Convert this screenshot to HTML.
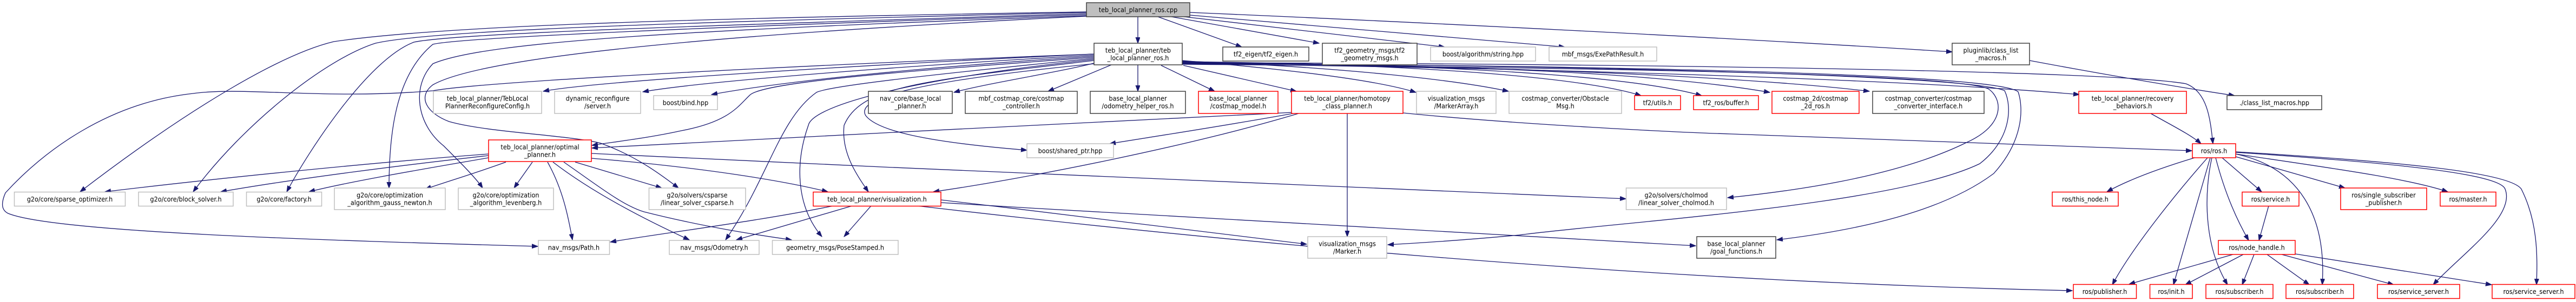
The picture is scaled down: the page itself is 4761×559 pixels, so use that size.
<!DOCTYPE html>
<html><head><meta charset="utf-8"><style>
html,body{margin:0;padding:0;background:#fff;}
svg{display:block;}
text{font-family:"DejaVu Sans Condensed","DejaVu Sans","Liberation Sans",sans-serif;font-size:12.5px;fill:#000;text-anchor:middle;}
.e{fill:none;stroke:#191970;stroke-width:1.3;marker-end:url(#a);}
.g{fill:#fff;stroke:#bfbfbf;stroke-width:1.5;}
.k{fill:#fff;stroke:#404040;stroke-width:1.5;}
.r{fill:#fff;stroke:#ff0000;stroke-width:1.5;}
</style></head><body>
<svg width="4761" height="559" viewBox="0 0 4761 559" xmlns="http://www.w3.org/2000/svg">
<defs><marker id="a" markerUnits="userSpaceOnUse" markerWidth="12" markerHeight="9" refX="11" refY="4" orient="auto"><path d="M0,0 L11,4 L0,8 z" fill="#191970" stroke="#191970"/></marker></defs>

<!-- edges -->
<path class="e" d="M2103,31 L2103,80"/>
<path class="e" d="M2140,31 L2295,87"/>
<path class="e" d="M2165,31 L2438,80"/>
<path class="e" d="M2180,30 L2670,87"/>
<path class="e" d="M2199,28 L2892,87"/>
<path class="e" d="M2199,23 C2600,40 3200,70 3608,96"/>
<path class="e" d="M2008,22 C1200,35 800,50 617,77 C520,100 350,200 148,355"/>
<path class="e" d="M2008,23 C1300,40 800,55 694,80 C600,110 450,230 357,355"/>
<path class="e" d="M2008,25 C1400,45 850,60 765,78 C680,110 570,280 530,355"/>
<path class="e" d="M2008,27 C1300,50 850,70 800,82 C730,140 719,250 719,348"/>
<path class="e" d="M2008,29 C1300,55 900,75 800,118 C760,160 770,230 820,270 C850,300 880,330 892,348"/>
<path class="e" d="M2008,30 C1400,60 900,100 800,157 C770,180 790,210 830,225 C900,245 1050,250 1110,265 C1180,290 1230,330 1254,348"/>
<path class="e" d="M2022,100 C1500,120 900,150 800,168 C600,185 450,160 357,173 C200,190 80,280 10,357 C0,380 5,390 15,395 C100,430 600,445 994,456"/>
<path class="e" d="M2022,100 C1600,120 1100,150 1004,169"/>
<path class="e" d="M2022,102 C1700,120 1300,150 1188,170"/>
<path class="e" d="M2022,104 C1700,125 1450,150 1315,175"/>
<path class="e" d="M2022,106 C1700,130 1420,150 1387,175 C1365,195 1350,225 1259,242 C1200,255 1140,262 1094,269"/>
<path class="e" d="M2022,108 C1700,140 1530,160 1509,171 C1440,220 1420,330 1341,444"/>
<path class="e" d="M2022,110 C1650,150 1500,200 1494,232 C1470,300 1470,380 1519,438"/>
<path class="e" d="M2022,112 C1700,150 1590,160 1560,232 C1555,280 1580,320 1605,355"/>
<path class="e" d="M2022,117 C1950,135 1820,155 1763,171"/>
<path class="e" d="M2054,120 L1937,169"/>
<path class="e" d="M2103,120 L2103,169"/>
<path class="e" d="M2146,121 L2245,169"/>
<path class="e" d="M2187,121 L2396,169"/>
<path class="e" d="M2022,118 C1700,150 1580,180 1600,214 C1620,240 1700,262 1898,278"/>
<path class="e" d="M2185,112 C2400,130 2550,150 2617,171"/>
<path class="e" d="M2185,113 C2500,125 2700,150 2788,169"/>
<path class="e" d="M2185,114 C2700,120 2950,150 3033,177"/>
<path class="e" d="M2185,115 C2800,120 3050,150 3145,177"/>
<path class="e" d="M2185,116 C2900,120 3150,150 3271,171"/>
<path class="e" d="M2185,117 C2900,122 3300,150 3455,169"/>
<path class="e" d="M2185,118 C2800,125 3500,145 3843,175"/>
<path class="e" d="M2185,116 C3000,118 3900,130 4040,155 C4080,170 4085,220 4090,266"/>
<path class="e" d="M2185,119 C2900,125 3600,135 3674,164 C3700,180 3710,230 3634,264 C3500,330 3300,355 3193,366"/>
<path class="e" d="M2185,117 C2900,120 3650,140 3705,168 C3720,200 3715,260 3659,303 C3500,380 3000,410 2808,435 C2700,445 2620,450 2565,453"/>
<path class="e" d="M2185,118 C2900,120 3690,135 3730,170 C3740,200 3740,260 3685,321 C3580,400 3400,430 3284,444"/>
<path class="e" d="M2400,210 C2200,270 1900,330 1725,355"/>
<path class="e" d="M2390,210 C2250,235 2150,250 2051,266"/>
<path class="e" d="M2390,208 C2000,230 1500,250 1094,274"/>
<path class="e" d="M2490,210 L2490,438"/>
<path class="e" d="M2593,209 C2800,230 3100,245 3200,248 C3600,265 3900,275 4051,279"/>
<path class="e" d="M903,285 C700,300 400,330 194,355"/>
<path class="e" d="M903,288 C750,305 550,330 408,355"/>
<path class="e" d="M903,292 C800,310 650,335 571,355"/>
<path class="e" d="M935,300 C880,320 830,335 786,350"/>
<path class="e" d="M984,300 L950,348"/>
<path class="e" d="M1012,300 C1040,350 1050,400 1058,444"/>
<path class="e" d="M1022,300 C1100,360 1200,410 1274,444"/>
<path class="e" d="M1042,300 C1100,340 1150,380 1190,392 C1300,420 1400,435 1463,444"/>
<path class="e" d="M1063,300 L1223,348"/>
<path class="e" d="M1093,293 C1300,310 1450,335 1530,355"/>
<path class="e" d="M1093,284 C1800,320 2700,350 3005,368"/>
<path class="e" d="M1540,381 C1400,410 1200,435 1128,448"/>
<path class="e" d="M1575,381 L1361,444"/>
<path class="e" d="M1610,381 L1560,438"/>
<path class="e" d="M1739,370 C2000,400 2300,440 2415,452"/>
<path class="e" d="M1739,375 C2300,410 2900,440 3134,455"/>
<path class="e" d="M1695,381 C2200,440 3000,520 3830,538"/>
<path class="e" d="M3751,112 C3900,140 4050,165 4130,177"/>
<path class="e" d="M3975,210 C4010,230 4050,250 4068,266"/>
<path class="e" d="M4056,292 C3980,315 3930,335 3894,355"/>
<path class="e" d="M4080,292 C4020,360 3940,460 3904,527"/>
<path class="e" d="M4085,292 L4017,527"/>
<path class="e" d="M4088,292 C4075,350 4070,450 4117,527"/>
<path class="e" d="M4095,292 C4110,350 4130,400 4156,445"/>
<path class="e" d="M4107,292 L4180,355"/>
<path class="e" d="M4132,285 C4250,310 4300,400 4292,527"/>
<path class="e" d="M4132,290 L4334,348"/>
<path class="e" d="M4132,285 C4300,310 4450,330 4524,355"/>
<path class="e" d="M4132,282 C4400,300 4620,320 4630,350 C4650,400 4550,470 4497,527"/>
<path class="e" d="M4132,281 C4450,300 4640,320 4660,350 C4690,410 4690,470 4688,527"/>
<path class="e" d="M4193,381 L4175,445"/>
<path class="e" d="M4127,471 L3935,526"/>
<path class="e" d="M4146,471 L4039,527"/>
<path class="e" d="M4166,471 L4144,527"/>
<path class="e" d="M4190,471 L4268,527"/>
<path class="e" d="M4217,471 L4424,527"/>
<path class="e" d="M4242,470 L4605,527"/>

<!-- nodes -->
<rect x="2008" y="5" width="191" height="26" fill="#bfbfbf" stroke="#404040" stroke-width="1.5"/><text x="2103.5" y="22.5">teb_local_planner_ros.cpp</text>
<rect class="k" x="2022" y="80" width="163" height="40"/><text x="2103.5" y="97.5">teb_local_planner/teb</text><text x="2103.5" y="111.5">_local_planner_ros.h</text>
<rect class="k" x="2260" y="87" width="159" height="26"/><text x="2339.5" y="104.5">tf2_eigen/tf2_eigen.h</text>
<rect class="k" x="2444" y="80" width="175" height="40"/><text x="2531.5" y="97.5">tf2_geometry_msgs/tf2</text><text x="2531.5" y="111.5">_geometry_msgs.h</text>
<rect class="g" x="2644" y="87" width="194" height="26"/><text x="2741" y="104.5">boost/algorithm/string.hpp</text>
<rect class="g" x="2863" y="87" width="199" height="26"/><text x="2962.5" y="104.5">mbf_msgs/ExePathResult.h</text>
<rect class="k" x="3608" y="80" width="143" height="40"/><text x="3679.5" y="97.5">pluginlib/class_list</text><text x="3679.5" y="111.5">_macros.h</text>

<rect class="g" x="801" y="169" width="200" height="41"/><text x="901" y="186.5">teb_local_planner/TebLocal</text><text x="901" y="200.5">PlannerReconfigureConfig.h</text>
<rect class="g" x="1025" y="169" width="159" height="41"/><text x="1104.5" y="186.5">dynamic_reconfigure</text><text x="1104.5" y="200.5">/server.h</text>
<rect class="g" x="1208" y="177" width="118" height="26"/><text x="1267" y="194.5">boost/bind.hpp</text>
<rect class="k" x="1605" y="169" width="155" height="41"/><text x="1682.5" y="186.5">nav_core/base_local</text><text x="1682.5" y="200.5">_planner.h</text>
<rect class="k" x="1784" y="169" width="207" height="41"/><text x="1887.5" y="186.5">mbf_costmap_core/costmap</text><text x="1887.5" y="200.5">_controller.h</text>
<rect class="k" x="2015" y="169" width="176" height="41"/><text x="2103" y="186.5">base_local_planner</text><text x="2103" y="200.5">/odometry_helper_ros.h</text>
<rect class="r" x="2215" y="169" width="147" height="41"/><text x="2288.5" y="186.5">base_local_planner</text><text x="2288.5" y="200.5">/costmap_model.h</text>
<rect class="r" x="2387" y="169" width="206" height="41"/><text x="2490" y="186.5">teb_local_planner/homotopy</text><text x="2490" y="200.5">_class_planner.h</text>
<rect class="g" x="2618" y="169" width="147" height="41"/><text x="2691.5" y="186.5">visualization_msgs</text><text x="2691.5" y="200.5">/MarkerArray.h</text>
<rect class="g" x="2789" y="169" width="208" height="41"/><text x="2893" y="186.5">costmap_converter/Obstacle</text><text x="2893" y="200.5">Msg.h</text>
<rect class="r" x="3021" y="177" width="85" height="26"/><text x="3063.5" y="194.5">tf2/utils.h</text>
<rect class="r" x="3130" y="177" width="120" height="26"/><text x="3190" y="194.5">tf2_ros/buffer.h</text>
<rect class="r" x="3275" y="169" width="161" height="41"/><text x="3355.5" y="186.5">costmap_2d/costmap</text><text x="3355.5" y="200.5">_2d_ros.h</text>
<rect class="k" x="3461" y="169" width="206" height="41"/><text x="3564" y="186.5">costmap_converter/costmap</text><text x="3564" y="200.5">_converter_interface.h</text>
<rect class="r" x="3842" y="169" width="199" height="41"/><text x="3941.5" y="186.5">teb_local_planner/recovery</text><text x="3941.5" y="200.5">_behaviors.h</text>
<rect class="k" x="4116" y="177" width="175" height="26"/><text x="4203.5" y="194.5">./class_list_macros.hpp</text>

<rect class="r" x="903" y="259" width="190" height="40"/><text x="998" y="276.5">teb_local_planner/optimal</text><text x="998" y="290.5">_planner.h</text>
<rect class="g" x="1898" y="266" width="160" height="26"/><text x="1978" y="283.5">boost/shared_ptr.hpp</text>
<rect class="r" x="4052" y="266" width="80" height="26"/><text x="4092" y="283.5">ros/ros.h</text>

<rect class="g" x="26.5" y="355.5" width="205" height="26"/><text x="129" y="373">g2o/core/sparse_optimizer.h</text>
<rect class="g" x="256" y="355.5" width="175" height="26"/><text x="343.5" y="373">g2o/core/block_solver.h</text>
<rect class="g" x="455.5" y="355.5" width="139" height="26"/><text x="525" y="373">g2o/core/factory.h</text>
<rect class="g" x="618" y="348" width="205" height="40"/><text x="720.5" y="365.5">g2o/core/optimization</text><text x="720.5" y="379.5">_algorithm_gauss_newton.h</text>
<rect class="g" x="847" y="348" width="176" height="40"/><text x="935" y="365.5">g2o/core/optimization</text><text x="935" y="379.5">_algorithm_levenberg.h</text>
<rect class="g" x="1199.5" y="348" width="178.5" height="40"/><text x="1288.5" y="365.5">g2o/solvers/csparse</text><text x="1288.5" y="379.5">/linear_solver_csparse.h</text>
<rect class="r" x="1503" y="355.5" width="236" height="26"/><text x="1621" y="373">teb_local_planner/visualization.h</text>
<rect class="g" x="3005.5" y="348" width="185.5" height="40"/><text x="3098" y="365.5">g2o/solvers/cholmod</text><text x="3098" y="379.5">/linear_solver_cholmod.h</text>
<rect class="r" x="3793" y="355.5" width="122" height="26"/><text x="3854" y="373">ros/this_node.h</text>
<rect class="r" x="4144" y="355.5" width="105" height="26"/><text x="4196.5" y="373">ros/service.h</text>
<rect class="r" x="4326" y="348" width="159" height="40"/><text x="4405.5" y="365.5">ros/single_subscriber</text><text x="4405.5" y="379.5">_publisher.h</text>
<rect class="r" x="4510" y="355.5" width="103" height="26"/><text x="4561.5" y="373">ros/master.h</text>

<rect class="g" x="995" y="445" width="131.5" height="26"/><text x="1060.5" y="462.5">nav_msgs/Path.h</text>
<rect class="g" x="1237" y="445" width="166" height="26"/><text x="1320" y="462.5">nav_msgs/Odometry.h</text>
<rect class="g" x="1427.5" y="445" width="232.5" height="26"/><text x="1543.5" y="462.5">geometry_msgs/PoseStamped.h</text>
<rect class="g" x="2417" y="438" width="146" height="40"/><text x="2490" y="455.5">visualization_msgs</text><text x="2490" y="469.5">/Marker.h</text>
<rect class="k" x="3136" y="438" width="146" height="40"/><text x="3209" y="455.5">base_local_planner</text><text x="3209" y="469.5">/goal_functions.h</text>
<rect class="r" x="4100" y="445" width="142" height="26"/><text x="4171" y="462.5">ros/node_handle.h</text>

<rect class="r" x="3832" y="526.5" width="116.5" height="26"/><text x="3890" y="544">ros/publisher.h</text>
<rect class="r" x="3973.5" y="526.5" width="78.5" height="26"/><text x="4013" y="544">ros/init.h</text>
<rect class="r" x="4077" y="526.5" width="124" height="26"/><text x="4139" y="544">ros/subscriber.h</text>
<rect class="r" x="4225" y="526.5" width="125" height="26"/><text x="4287.5" y="544">ros/subscriber.h</text>
<rect class="r" x="4394" y="526.5" width="152" height="26"/><text x="4470" y="544">ros/service_server.h</text>
<rect class="r" x="4606" y="526.5" width="153" height="26"/><text x="4682.5" y="544">ros/service_server.h</text>
</svg>
</body></html>
